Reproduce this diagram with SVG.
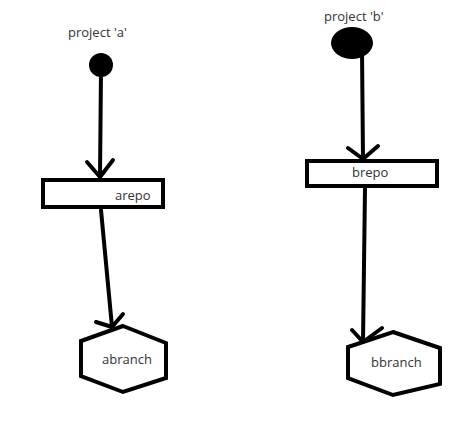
<svg xmlns="http://www.w3.org/2000/svg" width="474" height="431" viewBox="0 0 474 431">
<style>
.lbl{font-family:"Open Sans","Liberation Sans",sans-serif;font-size:13px;fill:#333}
.shape{fill:#fff;stroke:#000;stroke-width:4;stroke-linejoin:miter}
.edge{fill:none;stroke:#000;stroke-width:4;stroke-linecap:round;stroke-linejoin:round}
</style>
<rect width="474" height="431" fill="#fff"/>
<g id="start-a">
<text class="lbl" x="68" y="37">project 'a'</text>
<circle cx="101" cy="65" r="12" fill="#000"/>
</g>
<g id="start-b">
<text class="lbl" x="324" y="21">project 'b'</text>
<ellipse cx="352" cy="43" rx="21" ry="16" fill="#000"/>
</g>
<g id="connectors">
<path class="edge" d="M101 70 L100 177 M87 162 L100 177 L113 160"/>
<path class="edge" d="M362 50 L363 159 M348 148 L363 159 L378 146"/>
<path class="edge" d="M101 210 L112 327 M96 322 L112 327 L123 314"/>
<path class="edge" d="M365 188 L363 342 M352 330 L363 342 L382 328"/>
</g>
<g id="arepo">
<rect class="shape" x="43" y="180" width="120" height="27"/>
<text class="lbl" x="115" y="200">arepo</text>
</g>
<g id="brepo">
<rect class="shape" x="307" y="161" width="130" height="25"/>
<text class="lbl" x="352" y="177">brepo</text>
</g>
<g id="abranch">
<polygon class="shape" points="123,326 166,343 166,378 123,392 81,376 81,341"/>
<text class="lbl" x="102" y="364">abranch</text>
</g>
<g id="bbranch">
<polygon class="shape" points="393,332 440,348 440,384 393,395 348,378 348,347"/>
<text class="lbl" x="371" y="367">bbranch</text>
</g>
</svg>
